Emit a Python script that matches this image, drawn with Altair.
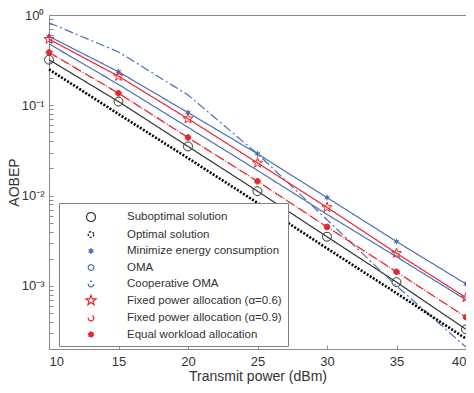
import altair as alt
import pandas as pd

# ---- data ----
power = [10, 15, 20, 25, 30, 35, 40]
suboptimal = [0.32, 0.11, 0.035, 0.0112, 0.0035, 0.0011, 0.00033]
optimal = [0.25, 0.08, 0.026, 0.0083, 0.0026, 0.00083, 0.00026]
min_energy = [0.58, 0.235, 0.083, 0.029, 0.0095, 0.0031, 0.00105]
oma = [0.48, 0.17, 0.057, 0.019, 0.0062, 0.0021, 0.0007]
coop_oma = [0.82, 0.39, 0.13, 0.029, 0.0054, 0.001, 0.00021]
fixed_06 = [0.54, 0.21, 0.071, 0.023, 0.0074, 0.0023, 0.00074]
fixed_09 = [0.385, 0.136, 0.044, 0.0144, 0.0045, 0.00143, 0.00045]
equal_workload = [0.385, 0.136, 0.044, 0.0144, 0.0045, 0.00143, 0.00045]

series_names = [
    "Suboptimal solution",
    "Optimal solution",
    "Minimize energy consumption",
    "OMA",
    "Cooperative OMA",
    "Fixed power allocation (α=0.6)",
    "Fixed power allocation (α=0.9)",
    "Equal workload allocation",
]
series_values = [suboptimal, optimal, min_energy, oma, coop_oma, fixed_06, fixed_09, equal_workload]

x_ticks = [10, 15, 20, 25, 30, 35, 40]
y_ticks = [m * d for d in [1e-4, 1e-3, 1e-2, 1e-1] for m in range(1, 10) if m * d >= 2e-4] + [1]

rows = []
for i, (name, vals) in enumerate(zip(series_names, series_values)):
    for p, v in zip(power, vals):
        rows.append({"power": p, "aobep": v, "series": name, "series2": name, "idx": i})
df = pd.DataFrame(rows)

FONT = "Liberation Sans"
TXT = "#333333"
AX = "#8a8a8a"
BLACK = "#333333"
BLUE = "#4a6fb5"
RED = "#e8262e"
W, H = 417, 334

colors = [BLACK, "#000000", BLUE, BLUE, BLUE, RED, RED, RED]
dashes = [[1, 0], [2, 1.6], [1, 0], [1, 0], [9, 3, 2, 3], [1, 0], [9, 5], [1, 2]]

# marker shapes as paths in the unit square (drawn at size 196 -> scale 7)
CIRC = "M0.64,0A0.64,0.64,0,1,1,-0.64,0A0.64,0.64,0,1,1,0.64,0Z"
DOT = "M0.4,0A0.4,0.4,0,1,1,-0.4,0A0.4,0.4,0,1,1,0.4,0Z"
STAR = ("M0,-0.75L0.176,-0.243L0.713,-0.232L0.285,0.093L0.441,0.607L0,0.3"
        "L-0.441,0.607L-0.285,0.093L-0.713,-0.232L-0.176,-0.243Z")
ASTER = ("M0,-0.42L0,0.42M-0.36,-0.21L0.36,0.21M-0.36,0.21L0.36,-0.21"
         "M0.2,0A0.2,0.2,0,1,1,-0.2,0A0.2,0.2,0,1,1,0.2,0Z")
NONE = "transparent"
marker_shapes = [CIRC, DOT, ASTER, DOT, DOT, STAR, DOT, DOT]
marker_fills = [NONE, NONE, BLUE, NONE, NONE, NONE, NONE, RED]
marker_strokes = [BLACK, NONE, BLUE, NONE, NONE, RED, NONE, RED]

xscale = alt.Scale(domain=[10, 40], nice=False, zero=False)
yscale = alt.Scale(type="log", domain=[2e-4, 1], nice=False)

xaxis = alt.Axis(values=x_ticks, title="Transmit power (dBm)", grid=False, domain=False,
                 offset=-4, tickSize=4, tickColor=AX, labelPadding=6,
                 labelFont=FONT, labelFontSize=13, labelColor=TXT,
                 titleFont=FONT, titleFontSize=14, titleFontWeight="normal", titleColor=TXT,
                 titlePadding=1)
yaxis = alt.Axis(values=y_ticks, title="AOBEP", grid=False, domain=False,
                 offset=-4, tickSize=4, tickColor=AX, labelPadding=5,
                 labelExpr="datum.value == 1 ? '10⁰' : datum.value == 0.1 ? '10⁻¹' : datum.value == 0.01 ? '10⁻²' : datum.value == 0.001 ? '10⁻³' : ''",
                 labelFont=FONT, labelFontSize=13, labelColor=TXT,
                 titleFont=FONT, titleFontSize=14, titleFontWeight="normal", titleColor=TXT,
                 titlePadding=0)

X = alt.X("power:Q", scale=xscale, axis=xaxis)
Y = alt.Y("aobep:Q", scale=yscale, axis=yaxis)

line_legend = alt.Legend(title=None, orient="none", legendX=10, legendY=188,
                         symbolType="M-2.14,0L2.14,0", symbolSize=196, symbolStrokeWidth=1.2,
                         symbolOffset=18, labelOffset=28,
                         labelFont=FONT, labelFontSize=11.5, labelColor=TXT, labelLimit=400,
                         fillColor="white", strokeColor="#808080", padding=6, rowPadding=2.5)

line_enc = dict(
    x=X, y=Y,
    color=alt.Color("series:N", scale=alt.Scale(domain=series_names, range=colors), legend=line_legend),
    strokeDash=alt.StrokeDash("series:N", scale=alt.Scale(domain=series_names, range=dashes), legend=line_legend),
)
lines = alt.Chart(df).mark_line(strokeWidth=1.2).encode(**line_enc).transform_filter("datum.idx != 1")
opt_line = alt.Chart(df).mark_line(strokeWidth=2.6).encode(**line_enc).transform_filter("datum.idx == 1")

pts = alt.Chart(df).mark_point(size=196, opacity=1, strokeWidth=1).encode(
    x=X, y=Y,
    shape=alt.Shape("series2:N", scale=alt.Scale(domain=series_names, range=marker_shapes), legend=None),
    fill=alt.Fill("series2:N", scale=alt.Scale(domain=series_names, range=marker_fills), legend=None),
    stroke=alt.Stroke("series2:N", scale=alt.Scale(domain=series_names, range=marker_strokes), legend=None),
).transform_filter("datum.idx == 0 || datum.idx == 2 || datum.idx == 5 || datum.idx == 7")

chart = alt.layer(lines, opt_line, pts).properties(
    width=W, height=H,
    padding={"left": 41, "top": 7, "right": 0, "bottom": 36},
    autosize=alt.AutoSizeParams(type="none"),
    background="white",
).configure_view(stroke=AX, strokeWidth=1)

chart.save("out.html", embed_options={"renderer": "svg", "actions": False})
